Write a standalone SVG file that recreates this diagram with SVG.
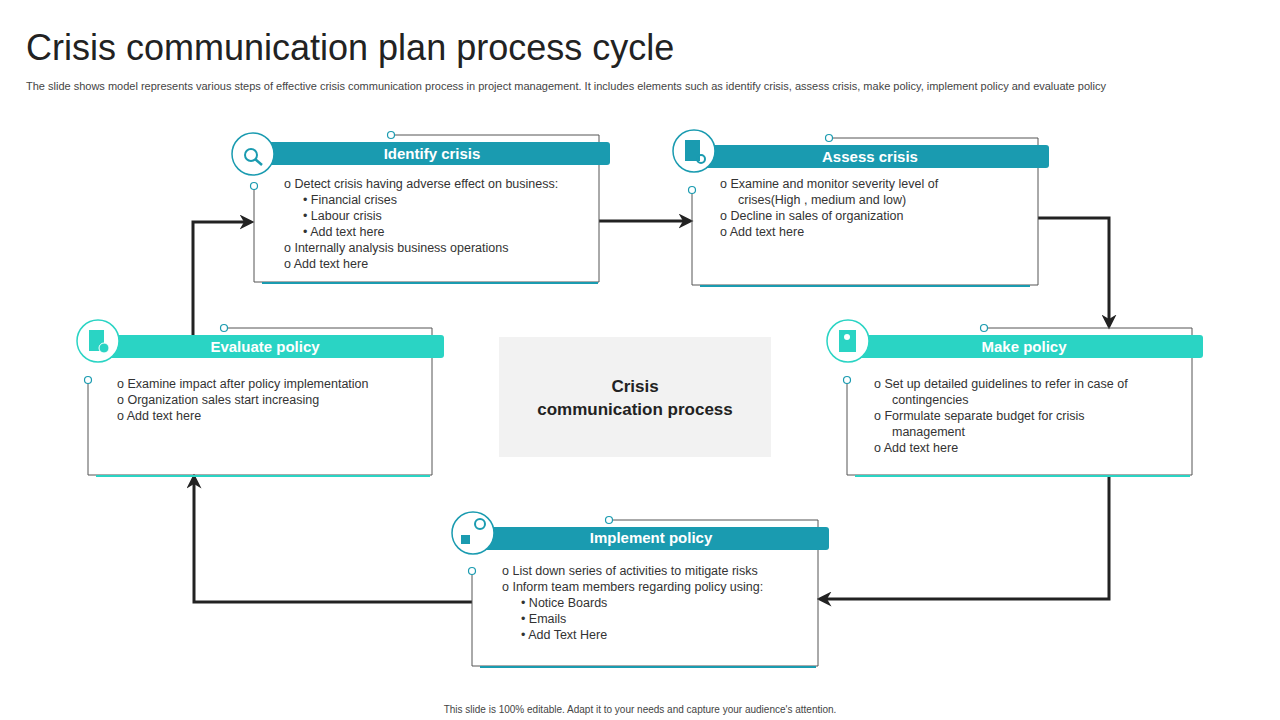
<svg xmlns="http://www.w3.org/2000/svg" width="1280" height="720" viewBox="0 0 1280 720">
<style>
text{font-family:"Liberation Sans",Arial,sans-serif}
.t{font-size:36px;fill:#222}
.s{font-size:11px;fill:#444}
.b{font-size:12.5px;fill:#333}
.h{font-size:15px;font-weight:bold;fill:#fff}
.ol{fill:none;stroke:#555;stroke-width:1}
.dot{fill:#fff;stroke:#1a9bb0;stroke-width:1.2}
.dk{fill:#1a9bb0}.lt{fill:#2ad4c4}
.ic{fill:#fff;stroke-width:1.5}
.c{fill:none;stroke:#222;stroke-width:3}
</style>
<defs>
<marker id="a" viewBox="0 0 10 10" refX="7" refY="5" markerWidth="5" markerHeight="5" orient="auto"><path d="M0,0 L10,5 L0,10 L3,5z" fill="#222"/></marker>
</defs>
<text x="26" y="60" class="t">Crisis communication plan process cycle</text>
<text x="26" y="90" class="s">The slide shows model represents various steps of effective crisis communication process in project management. It includes elements such as identify crisis, assess crisis, make policy, implement policy and evaluate policy</text>

<g id="connectors">
<path class="c" d="M193,335 V222 H250" marker-end="url(#a)"/>
<path class="c" d="M599,221 H689" marker-end="url(#a)"/>
<path class="c" d="M1038,218 H1109 V325" marker-end="url(#a)"/>
<path class="c" d="M1109,475 V599 H821" marker-end="url(#a)"/>
<path class="c" d="M472,602 H194 V478" marker-end="url(#a)"/>
</g>

<g id="center"><rect x="499" y="337" width="272" height="120" fill="#f2f2f2"/>
<text x="635" y="392" text-anchor="middle" style="font-size:17px;font-weight:bold;fill:#222">Crisis</text>
<text x="635" y="415" text-anchor="middle" style="font-size:17px;font-weight:bold;fill:#222">communication process</text></g>

<g id="identify">
<path class="ol" d="M391,135 H599 V282 H254 V186"/>
<line x1="262" y1="283" x2="598" y2="283" stroke="#1a9bb0" stroke-width="2"/>
<rect x="262" y="142" width="348" height="23" rx="3" class="dk"/>
<circle cx="391" cy="135" r="3.5" class="dot"/><circle cx="254" cy="186" r="3.5" class="dot"/>
<circle cx="253" cy="154" r="21" class="ic" stroke="#1a9bb0"/>
<circle cx="251" cy="155" r="6" fill="none" stroke="#1a9bb0" stroke-width="2"/><line x1="255" y1="159" x2="262" y2="165" stroke="#1a9bb0" stroke-width="2.5"/>
<text x="432" y="159" text-anchor="middle" class="h">Identify crisis</text>
<g class="b"><text x="284" y="188">o   Detect crisis having  adverse  effect on business:</text>
<text x="303" y="204">•    Financial crises</text><text x="303" y="220">•    Labour crisis</text><text x="303" y="236">•    Add text here</text>
<text x="284" y="252">o   Internally analysis business operations</text><text x="284" y="268">o   Add text here</text></g>
</g>

<g id="assess">
<path class="ol" d="M829,138 H1038 V285 H692 V190"/>
<line x1="700" y1="286" x2="1030" y2="286" stroke="#1a9bb0" stroke-width="2"/>
<rect x="700" y="145" width="349" height="23" rx="3" class="dk"/>
<circle cx="829" cy="138" r="3.5" class="dot"/><circle cx="692" cy="190" r="3.5" class="dot"/>
<circle cx="694" cy="151" r="21" class="ic" stroke="#1a9bb0"/>
<rect x="685" y="140" width="15" height="21" fill="#1a9bb0"/><circle cx="701" cy="159" r="4" fill="none" stroke="#1a9bb0" stroke-width="2"/>
<text x="870" y="162" text-anchor="middle" class="h">Assess  crisis</text>
<g class="b"><text x="720" y="188">o   Examine and monitor severity level of</text>
<text x="738" y="204">crises(High , medium and low)</text>
<text x="720" y="220">o   Decline in sales of organization</text><text x="720" y="236">o   Add text here</text></g>
</g>

<g id="evaluate">
<path class="ol" d="M224,328 H432 V475 H88 V380"/>
<line x1="96" y1="476" x2="430" y2="476" stroke="#2ad4c4" stroke-width="2"/>
<rect x="96" y="335" width="348" height="23" rx="3" class="lt"/>
<circle cx="224" cy="328" r="3.5" class="dot" stroke="#2ad4c4"/><circle cx="88" cy="380" r="3.5" class="dot" stroke="#2ad4c4"/>
<circle cx="98" cy="341" r="21" class="ic" stroke="#2ad4c4"/>
<rect x="89" y="330" width="15" height="21" fill="#2ad4c4"/><circle cx="104" cy="348" r="5" fill="#2ad4c4" stroke="#fff"/>
<text x="265" y="352" text-anchor="middle" class="h">Evaluate policy</text>
<g class="b"><text x="117" y="388">o   Examine impact after policy implementation</text>
<text x="117" y="404">o   Organization  sales start increasing</text><text x="117" y="420">o   Add text here</text></g>
</g>

<g id="make">
<path class="ol" d="M984,328 H1192 V475 H847 V380"/>
<line x1="855" y1="476" x2="1190" y2="476" stroke="#2ad4c4" stroke-width="2"/>
<rect x="855" y="335" width="348" height="23" rx="3" class="lt"/>
<circle cx="984" cy="328" r="3.5" class="dot" stroke="#2ad4c4"/><circle cx="847" cy="380" r="3.5" class="dot" stroke="#2ad4c4"/>
<circle cx="848" cy="341" r="21" class="ic" stroke="#2ad4c4"/>
<rect x="839" y="330" width="17" height="22" fill="#2ad4c4"/><circle cx="847" cy="337" r="3" fill="#fff"/>
<text x="1024" y="352" text-anchor="middle" class="h">Make policy</text>
<g class="b"><text x="874" y="388">o   Set up detailed guidelines to refer in case of</text>
<text x="892" y="404">contingencies</text>
<text x="874" y="420">o   Formulate separate budget for crisis</text>
<text x="892" y="436">management</text><text x="874" y="452">o   Add text here</text></g>
</g>

<g id="implement">
<path class="ol" d="M609,520 H818 V666 H472 V571"/>
<line x1="480" y1="667" x2="816" y2="667" stroke="#1a9bb0" stroke-width="2"/>
<rect x="480" y="527" width="349" height="23" rx="3" class="dk"/>
<circle cx="609" cy="520" r="3.5" class="dot"/><circle cx="472" cy="571" r="3.5" class="dot"/>
<circle cx="473" cy="533" r="21" class="ic" stroke="#1a9bb0"/>
<circle cx="480" cy="524" r="5" fill="none" stroke="#1a9bb0" stroke-width="2"/><rect x="461" y="535" width="9" height="9" fill="#1a9bb0"/>
<text x="651" y="543" text-anchor="middle" class="h">Implement policy</text>
<g class="b"><text x="502" y="575">o   List down  series of activities to mitigate risks</text>
<text x="502" y="591">o   Inform team members  regarding policy using:</text>
<text x="521" y="607">•    Notice Boards</text><text x="521" y="623">•    Emails</text><text x="521" y="639">•    Add Text Here</text></g>
</g>

<text x="640" y="713" text-anchor="middle" style="font-size:10px;fill:#444">This slide is 100% editable.  Adapt it to your needs and capture your audience's attention.</text>
</svg>
